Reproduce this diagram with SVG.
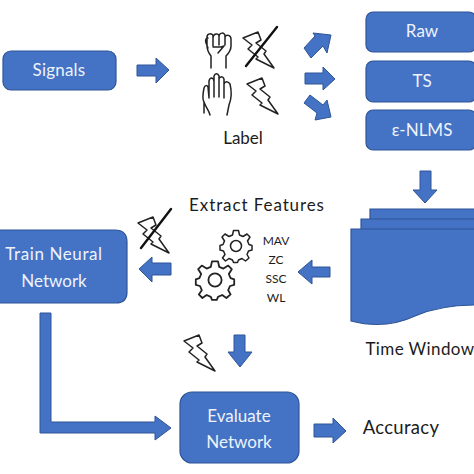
<svg xmlns="http://www.w3.org/2000/svg" width="474" height="474" viewBox="0 0 474 474">
<defs>
<style>
.b{fill:#4472c4;stroke:#2f5597;stroke-width:1.2}
.a{fill:#4472c4;stroke:#2f5597;stroke-width:1}
.w{font-family:Lato,"Open Sans",sans-serif;fill:#eef3fb;font-size:17px;text-anchor:middle}
.t{font-family:Lato,"Open Sans",sans-serif;fill:#1c1c1c;text-anchor:middle}
.i{fill:none;stroke:#222;stroke-width:1.5;stroke-linejoin:round;stroke-linecap:round}
.x{fill:none;stroke:#111;stroke-width:2.4;stroke-linecap:round}
</style>
<path id="bolt" d="M0 0L-15 6L-6 13L-10 17L0 25L-2 27L16 36L6 22L8 19L-2 11L3 8Z"/>
<g id="gear-s"><path d="M-2.5-15.5L2.5-15.5L3.5-11L7-9.5L11-12L14-9L11.5-5L13-1.5L16-.5V4L12.5 5L11 8.500L13 12L9.500 15L6 12.500L2.500 14L1.500 16.500H-2.500L-3.500 14L-7 12.500L-10.500 15L-13.500 12L-11 8.500L-12.500 5L-16 4V-.5L-13-1.500L-11.500-5L-14-9L-11-12L-7-9.500L-3.500-11Z"/><circle r="5.5"/></g>
</defs>
<rect width="474" height="474" fill="#fff"/>
<g id="connectors">
<path class="a" d="M137 65H156V58L169 70L156 83V76H137Z"/>
<path class="a" d="M304 48L315 36L313 33L331 35L327 53L323 46L311 58Z"/>
<path class="a" d="M305 73H323V67L335 79L323 90V84H305Z"/>
<path class="a" d="M304 103L310 95L323 105L327 100L331 117L315 120L317 113Z"/>
<path class="a" d="M420 171H431V190H437L425 203L413 190H420Z"/>
<path class="a" d="M330 267H312V260L298 272L312 284V277H330Z"/>
<path class="a" d="M171 263H152V257L139 269L152 282V275H171Z"/>
<path class="a" d="M234 335H245V352L252 352L240 367L228 352L234 352Z"/>
<path class="a" d="M40 313H51V422H155V416L171 428L155 440V433H40Z"/>
<path class="a" d="M314 424H333V418L346 431L333 443V437H314Z"/>
</g>
<g id="signals"><rect class="b" x="3" y="51" width="113" height="39" rx="8"/><text class="w" x="59" y="76" font-size="17.500" letter-spacing=".2">Signals</text></g>
<g id="raw"><rect class="b" x="366" y="12" width="110" height="40" rx="7"/><text class="w" x="422" y="37">Raw</text></g>
<g id="ts"><rect class="b" x="366" y="61" width="110" height="41" rx="7"/><text class="w" x="422" y="87">TS</text></g>
<g id="nlms"><rect class="b" x="366" y="110" width="110" height="40" rx="7"/><text class="w" x="422" y="136">ε-NLMS</text></g>
<g id="train"><path class="b" d="M-2 230H115Q127 230 127 242V292Q127 303 116 303H-2Z"/><text class="w" x="54" y="260" letter-spacing=".6">Train Neural</text><text class="w" x="54" y="287">Network</text></g>
<g id="evaluate"><rect class="b" x="180" y="392" width="119" height="71" rx="12"/><text class="w" x="239" y="422">Evaluate</text><text class="w" x="239" y="448">Network</text></g>
<g id="time-window">
<path class="b" d="M370 209H476V240H370Z"/>
<path class="b" d="M361 219H476V250H361Z"/>
<path class="b" d="M351 229H476V305Q440 305 415 316Q385 330 351 321Z"/>
<text class="t" x="420" y="355" font-size="17" letter-spacing=".4">Time Window</text>
</g>
<g id="label">
<g class="i">
<path d="M213 46V36C213 33 207 33 207 37V46C207 49 208 52 211 56V68M213 38C213 33 219 33 219 36V45M219 37C219 32 225 32 225 36V45M225 37C226 34 231 35 231 39V46C231 51 228 54 226 56V68M208 38C206 38 205 40 206 43L208 48M213 47H221L224 46L218 53"/>
<path d="M204 113V102C202 99 203 93 204 88C205 85 207 85 208 87L209 98V81C210 77 213 77 214 81V97V76C215 73 218 73 219 76V97V79C220 76 223 76 224 79V98V84C225 81 228 81 230 84C232 92 231 100 229 105L227 115M204 102C206 108 209 110 210 115"/>
</g>
<use href="#bolt" class="i" x="258" y="32"/>
<path class="x" d="M277 27L246 66"/>
<use href="#bolt" class="i" x="262" y="78"/>
<text class="t" x="243" y="144" font-size="17">Label</text>
</g>
<g id="extract">
<text class="t" x="257" y="211" font-size="17" letter-spacing=".9">Extract Features</text>
<use href="#gear-s" class="i" x="236" y="246"/>
<use href="#gear-s" class="i" transform="translate(215 280) scale(1.2)"/>
<g class="t" font-size="12"><text x="276" y="245">MAV</text><text x="276" y="264">ZC</text><text x="276" y="283">SSC</text><text x="276" y="302">WL</text></g>
</g>
<g id="bolts-left">
<use href="#bolt" class="i" x="153" y="217"/>
<path class="x" d="M171 209L141 248"/>
<use href="#bolt" class="i" x="199" y="335"/>
</g>
<g id="accuracy"><text class="t" x="401" y="434" font-size="18.500" letter-spacing=".3">Accuracy</text></g>
</svg>
